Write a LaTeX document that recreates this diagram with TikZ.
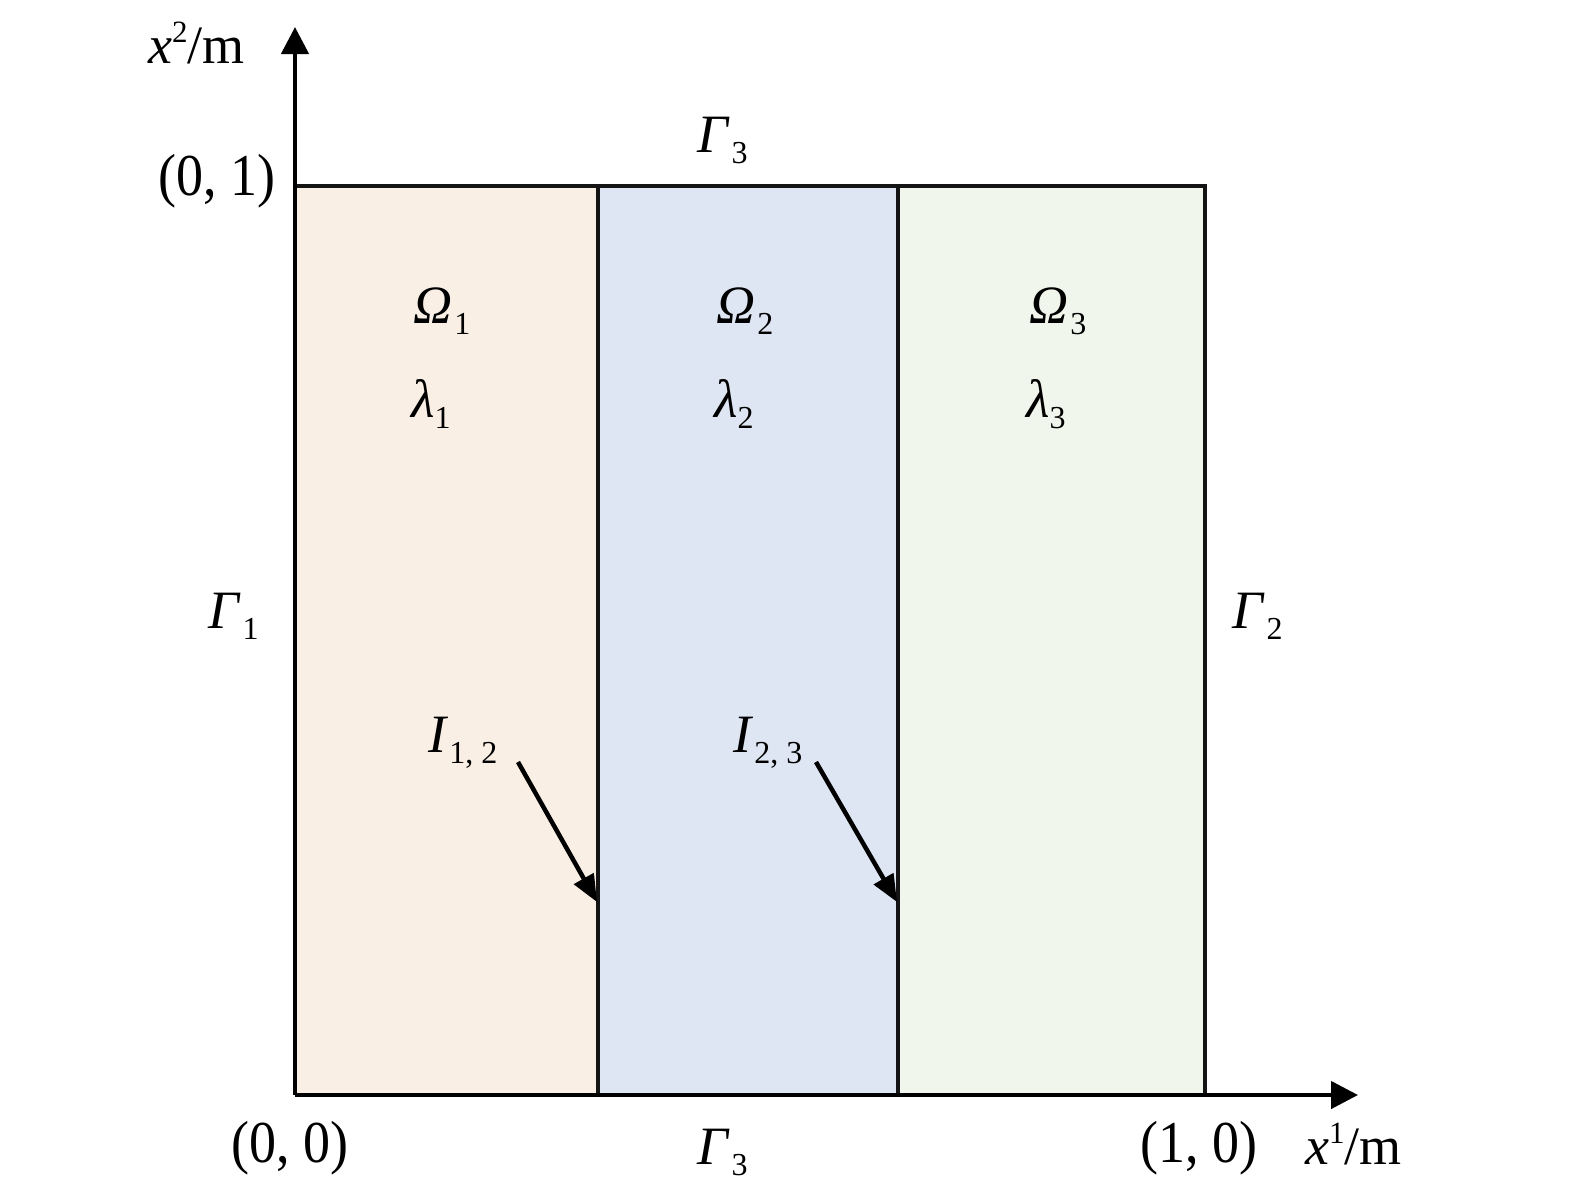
\documentclass[tikz,border=0pt]{standalone}
\usepackage{fontspec}
\setmainfont{Liberation Serif}
\usetikzlibrary{arrows.meta}
\definecolor{regA}{HTML}{FAEFE5}
\definecolor{regB}{HTML}{DFE6F3}
\definecolor{regC}{HTML}{F1F6EC}
\newcommand{\lbsub}[1]{\raisebox{-11bp}{\fontsize{32bp}{32bp}\selectfont #1}}
\newcommand{\lbsup}[1]{\raisebox{21bp}{\fontsize{31bp}{31bp}\selectfont #1}}
\newcommand{\tallnum}[1]{\scalebox{1}[1.1]{#1}}
\begin{document}
\begin{tikzpicture}[x=1bp,y=-1bp,
  lbl/.style={inner sep=0pt,anchor=base west,font=\fontsize{54bp}{60bp}\selectfont},
  axlbl/.style={inner sep=0pt,anchor=base west,font=\fontsize{54bp}{60bp}\selectfont},
  bord/.style={line width=4.5bp,black!92},
  axisline/.style={line width=4.5bp,-{Triangle[length=27bp,width=27bp]}},
  leader/.style={line width=4.5bp,-{Triangle[length=27bp,width=22bp]}}]
\useasboundingbox (0,0) rectangle (1575,1194);
% regions
\fill[regA] (295,186) rectangle (598,1095);
\fill[regB] (598,186) rectangle (898,1095);
\fill[regC] (898,186) rectangle (1205,1095);
% borders
\draw[bord] (295,186) -- (1205,186) -- (1205,1095);
\draw[bord] (598,186) -- (598,1095);
\draw[bord] (898,186) -- (898,1095);
% axes
\coordinate (O) at (295,1095);
\coordinate (ytip) at (295,27);
\coordinate (xtip) at (1358,1095);
\draw[axisline] (O) -- (ytip);
\draw[axisline] (O) -- (xtip);
% labels
\node[axlbl] (ylab) at (148,63) {\textit{x}\lbsup{2}/m};
\node[lbl,anchor=base east] (p01) at (276,195) {\tallnum{(0, 1)}};
\node[lbl] (g3t) at (697,152) {\textit{Γ}\kern2bp\lbsub{3}};
\node[lbl] (o1) at (413,323) {\textit{Ω}\kern2bp\lbsub{1}};
\node[lbl] (o2) at (716,323) {\textit{Ω}\kern2bp\lbsub{2}};
\node[lbl] (o3) at (1029,323) {\textit{Ω}\kern2bp\lbsub{3}};
\node[lbl] (l1) at (411,417) {\textit{λ}\lbsub{1}};
\node[lbl] (l2) at (714,417) {\textit{λ}\lbsub{2}};
\node[lbl] (l3) at (1026,417) {\textit{λ}\lbsub{3}};
\node[lbl] (g1) at (208,628) {\textit{Γ}\kern2bp\lbsub{1}};
\node[lbl] (g2) at (1232,628) {\textit{Γ}\kern2bp\lbsub{2}};
\node[lbl] (i12) at (428,752) {\textit{I}\kern1bp\lbsub{1, 2}};
\node[lbl] (i23) at (733,752) {\textit{I}\kern1bp\lbsub{2, 3}};
\node[lbl,anchor=base] (p00) at (290,1162) {\tallnum{(0, 0)}};
\node[lbl] (g3b) at (697,1164) {\textit{Γ}\kern2bp\lbsub{3}};
\node[lbl,anchor=base] (p10) at (1199,1162) {\tallnum{(1, 0)}};
\node[axlbl] (xlab) at (1305,1164) {\textit{x}\lbsup{1}/m};
% leaders
\coordinate (s12) at (518,762);
\coordinate (t12) at (597,902);
\coordinate (s23) at (816,762);
\coordinate (t23) at (897,902);
\draw[leader] (s12) -- (t12);
\draw[leader] (s23) -- (t23);
\end{tikzpicture}
\end{document}
